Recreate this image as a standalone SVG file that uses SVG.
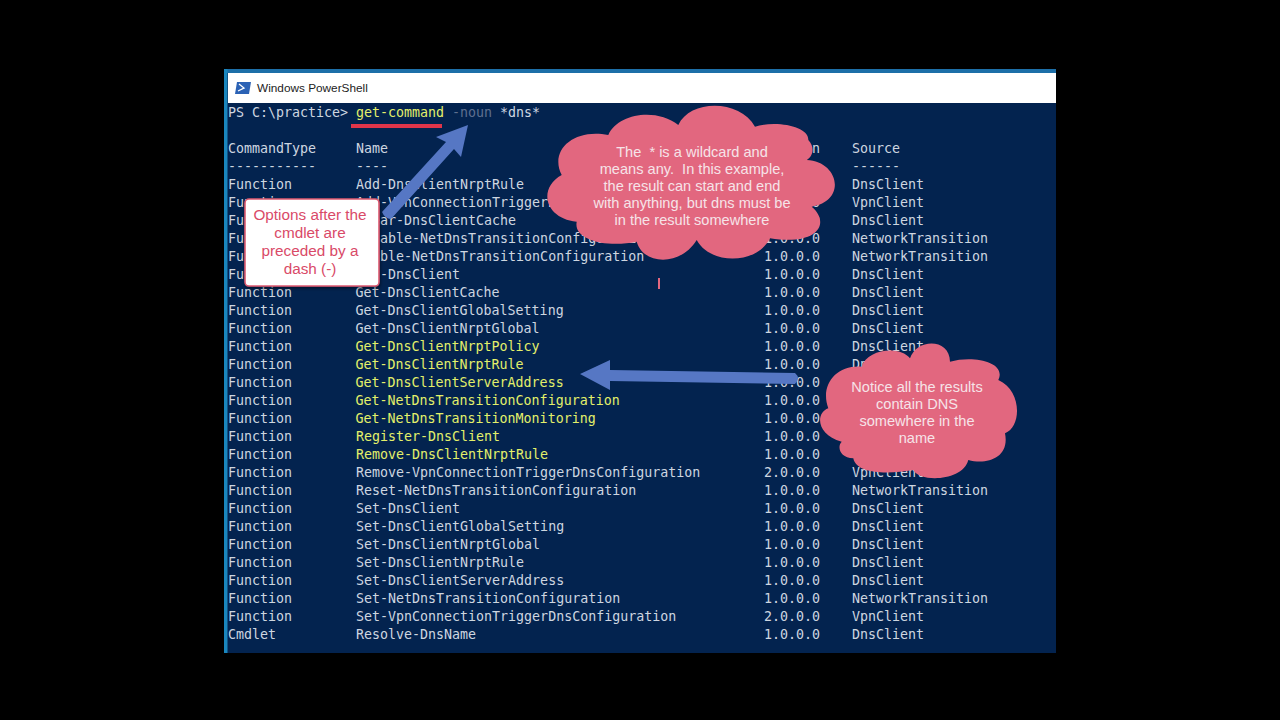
<svg xmlns="http://www.w3.org/2000/svg" width="1280" height="720" viewBox="0 0 1280 720">
<defs>
<filter id="sh" x="-10%" y="-10%" width="125%" height="125%"><feDropShadow dx="1" dy="2" stdDeviation="1.500" flood-color="#000" flood-opacity=".4"/></filter>
</defs>
<style>
.t{font-family:"DejaVu Sans Mono","Liberation Mono",monospace;font-size:13.3px;fill:#ced6e0}
.y{fill:#e3f06a}
.g{fill:#5f7090}
.c{font-family:"Liberation Sans",Arial,sans-serif;font-size:14.6px;fill:#f6e3e8;text-anchor:middle}
.o{font-family:"Liberation Sans",Arial,sans-serif;font-size:15.3px;fill:#d94a68;text-anchor:middle}
.cloud{fill:#e2677f}
.arr{fill:#5677c4}
</style>
<rect width="1280" height="720" fill="#000"/>
<g id="window">
<rect x="224" y="69" width="832" height="584" fill="#03234f"/>
<rect x="224" y="69" width="832" height="4" fill="#1d6fa8"/>
<rect x="224" y="69" width="3.500" height="584" fill="#1a86bd"/>
<rect x="228" y="73" width="828" height="30" fill="#fff"/>
<path d="M237 82h14l-2 12h-14z" fill="#2b62b5"/>
<path d="M239 84l5 4-6 3" fill="none" stroke="#fff" stroke-width="1.300"/>
<text x="257" y="92" font-family="'Liberation Sans',sans-serif" font-size="11.800" fill="#222">Windows PowerShell</text>
</g>
<g id="console">
<text class="t" x="228" y="117">PS C:\practice&gt;</text><text class="t y" x="356" y="117">get-command</text><text class="t g" x="452" y="117">-noun</text><text class="t" x="500" y="117">*dns*</text>
<text class="t" x="228" y="153">CommandType</text><text class="t" x="356" y="153">Name</text><text class="t" x="764" y="153">Version</text><text class="t" x="852" y="153">Source</text>
<text class="t" x="228" y="171">-----------</text><text class="t" x="356" y="171">----</text><text class="t" x="764" y="171">-------</text><text class="t" x="852" y="171">------</text>
<g id="col-type">
<text class="t" x="228" y="189">Function</text><text class="t" x="228" y="207">Function</text><text class="t" x="228" y="225">Function</text><text class="t" x="228" y="243">Function</text><text class="t" x="228" y="261">Function</text><text class="t" x="228" y="279">Function</text><text class="t" x="228" y="297">Function</text><text class="t" x="228" y="315">Function</text><text class="t" x="228" y="333">Function</text><text class="t" x="228" y="351">Function</text><text class="t" x="228" y="369">Function</text><text class="t" x="228" y="387">Function</text><text class="t" x="228" y="405">Function</text><text class="t" x="228" y="423">Function</text><text class="t" x="228" y="441">Function</text><text class="t" x="228" y="459">Function</text><text class="t" x="228" y="477">Function</text><text class="t" x="228" y="495">Function</text><text class="t" x="228" y="513">Function</text><text class="t" x="228" y="531">Function</text><text class="t" x="228" y="549">Function</text><text class="t" x="228" y="567">Function</text><text class="t" x="228" y="585">Function</text><text class="t" x="228" y="603">Function</text><text class="t" x="228" y="621">Function</text><text class="t" x="228" y="639">Cmdlet</text>
</g>
<g id="col-name">
<text class="t" x="356" y="189">Add-DnsClientNrptRule</text>
<text class="t" x="356" y="207">Add-VpnConnectionTriggerDnsConfiguration</text>
<text class="t" x="356" y="225">Clear-DnsClientCache</text>
<text class="t" x="356" y="243">Disable-NetDnsTransitionConfiguration</text>
<text class="t" x="356" y="261">Enable-NetDnsTransitionConfiguration</text>
<text class="t" x="356" y="279">Get-DnsClient</text>
<text class="t" x="355.500" y="297">Get-DnsClientCache</text>
<text class="t" x="355.500" y="315">Get-DnsClientGlobalSetting</text>
<text class="t" x="355.500" y="333">Get-DnsClientNrptGlobal</text>
<text class="t y" x="355.500" y="351">Get-DnsClientNrptPolicy</text>
<text class="t y" x="355.500" y="369">Get-DnsClientNrptRule</text>
<text class="t y" x="355.500" y="387">Get-DnsClientServerAddress</text>
<text class="t y" x="355.500" y="405">Get-NetDnsTransitionConfiguration</text>
<text class="t y" x="355.500" y="423">Get-NetDnsTransitionMonitoring</text>
<text class="t y" x="356" y="441">Register-DnsClient</text>
<text class="t y" x="356" y="459">Remove-DnsClientNrptRule</text>
<text class="t" x="356" y="477">Remove-VpnConnectionTriggerDnsConfiguration</text>
<text class="t" x="356" y="495">Reset-NetDnsTransitionConfiguration</text>
<text class="t" x="356" y="513">Set-DnsClient</text>
<text class="t" x="356" y="531">Set-DnsClientGlobalSetting</text>
<text class="t" x="356" y="549">Set-DnsClientNrptGlobal</text>
<text class="t" x="356" y="567">Set-DnsClientNrptRule</text>
<text class="t" x="356" y="585">Set-DnsClientServerAddress</text>
<text class="t" x="356" y="603">Set-NetDnsTransitionConfiguration</text>
<text class="t" x="356" y="621">Set-VpnConnectionTriggerDnsConfiguration</text>
<text class="t" x="356" y="639">Resolve-DnsName</text>
</g>
<g id="col-version">
<text class="t" x="764" y="189">1.0.0.0</text><text class="t" x="764" y="207">1.0.0.0</text><text class="t" x="764" y="225">1.0.0.0</text><text class="t" x="764" y="243">1.0.0.0</text><text class="t" x="764" y="261">1.0.0.0</text><text class="t" x="764" y="279">1.0.0.0</text><text class="t" x="764" y="297">1.0.0.0</text><text class="t" x="764" y="315">1.0.0.0</text><text class="t" x="764" y="333">1.0.0.0</text><text class="t" x="764" y="351">1.0.0.0</text><text class="t" x="764" y="369">1.0.0.0</text><text class="t" x="764" y="387">1.0.0.0</text><text class="t" x="764" y="405">1.0.0.0</text><text class="t" x="764" y="423">1.0.0.0</text><text class="t" x="764" y="441">1.0.0.0</text><text class="t" x="764" y="459">1.0.0.0</text><text class="t" x="764" y="477">2.0.0.0</text><text class="t" x="764" y="495">1.0.0.0</text><text class="t" x="764" y="513">1.0.0.0</text><text class="t" x="764" y="531">1.0.0.0</text><text class="t" x="764" y="549">1.0.0.0</text><text class="t" x="764" y="567">1.0.0.0</text><text class="t" x="764" y="585">1.0.0.0</text><text class="t" x="764" y="603">1.0.0.0</text><text class="t" x="764" y="621">2.0.0.0</text><text class="t" x="764" y="639">1.0.0.0</text>
</g>
<g id="col-source">
<text class="t" x="852" y="189">DnsClient</text><text class="t" x="852" y="207">VpnClient</text><text class="t" x="852" y="225">DnsClient</text><text class="t" x="852" y="243">NetworkTransition</text><text class="t" x="852" y="261">NetworkTransition</text><text class="t" x="852" y="279">DnsClient</text><text class="t" x="852" y="297">DnsClient</text><text class="t" x="852" y="315">DnsClient</text><text class="t" x="852" y="333">DnsClient</text><text class="t" x="852" y="351">DnsClient</text><text class="t" x="852" y="369">DnsClient</text><text class="t" x="852" y="477">VpnClient</text><text class="t" x="852" y="495">NetworkTransition</text><text class="t" x="852" y="513">DnsClient</text><text class="t" x="852" y="531">DnsClient</text><text class="t" x="852" y="549">DnsClient</text><text class="t" x="852" y="567">DnsClient</text><text class="t" x="852" y="585">DnsClient</text><text class="t" x="852" y="603">NetworkTransition</text><text class="t" x="852" y="621">VpnClient</text><text class="t" x="852" y="639">DnsClient</text>
</g>
</g>
<g id="connectors">
<rect x="351" y="124" width="91" height="4" fill="#e0354a"/>
<rect x="658" y="278" width="2" height="11" fill="#e2677f"/>
<path class="arr" d="M468 125L436 137L446 142L382 212Q385 219 391 219L454 149L461 157Z"/>
<path class="arr" d="M580 374L610 360V370L795 373Q801 378 795 384L610 381V390Z"/>
</g>
<g id="note-options">
<rect x="245" y="199" width="134" height="87" rx="4" fill="#fff" stroke="#dd5a70" stroke-width="1.600" filter="url(#sh)"/>
<text class="o" x="310" y="219.500">Options after the</text>
<text class="o" x="310" y="237.500">cmdlet are</text>
<text class="o" x="310" y="255.500">preceded by a</text>
<text class="o" x="310" y="273.500">dash (-)</text>
</g>
<g id="note-wildcard">
<path class="cloud" d="M561.700 175C549 150 574 128 608.300 135C618.300 113 656.700 108 678.300 125C690 99 740 99 755 126.700C778 120 809 127 808.300 140C816 148.300 812 157 806.700 160C838 161 848 200 811.700 206.700C830 222 820 246 770 238.300C756.700 265 710 265 696.700 240C680 267 643.300 265 636.700 241.700C606.700 248 573 240 576.700 221.700C544 218 538 188 561.700 175Z"/>
<text class="c" xml:space="preserve" x="692" y="157">The  * is a wildcard and</text>
<text class="c" xml:space="preserve" x="692" y="174">means any.  In this example,</text>
<text class="c" x="692" y="191">the result can start and end</text>
<text class="c" x="692" y="208">with anything, but dns must be</text>
<text class="c" x="692" y="225">in the result somewhere</text>
</g>
<g id="note-dns">
<path class="cloud" d="M828.300 408.300C820 386 835 365 861.700 366.700C866.700 349 900 345 910 358.300C916.700 338 950 338 950 361.700C973.300 355 1007 362 998.300 380C1022 390 1022 427 1005 433.300C1010 458.300 986.700 465 968.300 460C963.300 481 920 483 913.300 470C890 474 856.700 475 853.300 458.300C840 458.300 836.700 446.700 841.700 441.700C816.700 435 815 413.300 828.300 408.300Z"/>
<text class="c" x="917" y="392">Notice all the results</text>
<text class="c" x="917" y="409">contain DNS</text>
<text class="c" x="917" y="426">somewhere in the</text>
<text class="c" x="917" y="443">name</text>
</g>
</svg>
